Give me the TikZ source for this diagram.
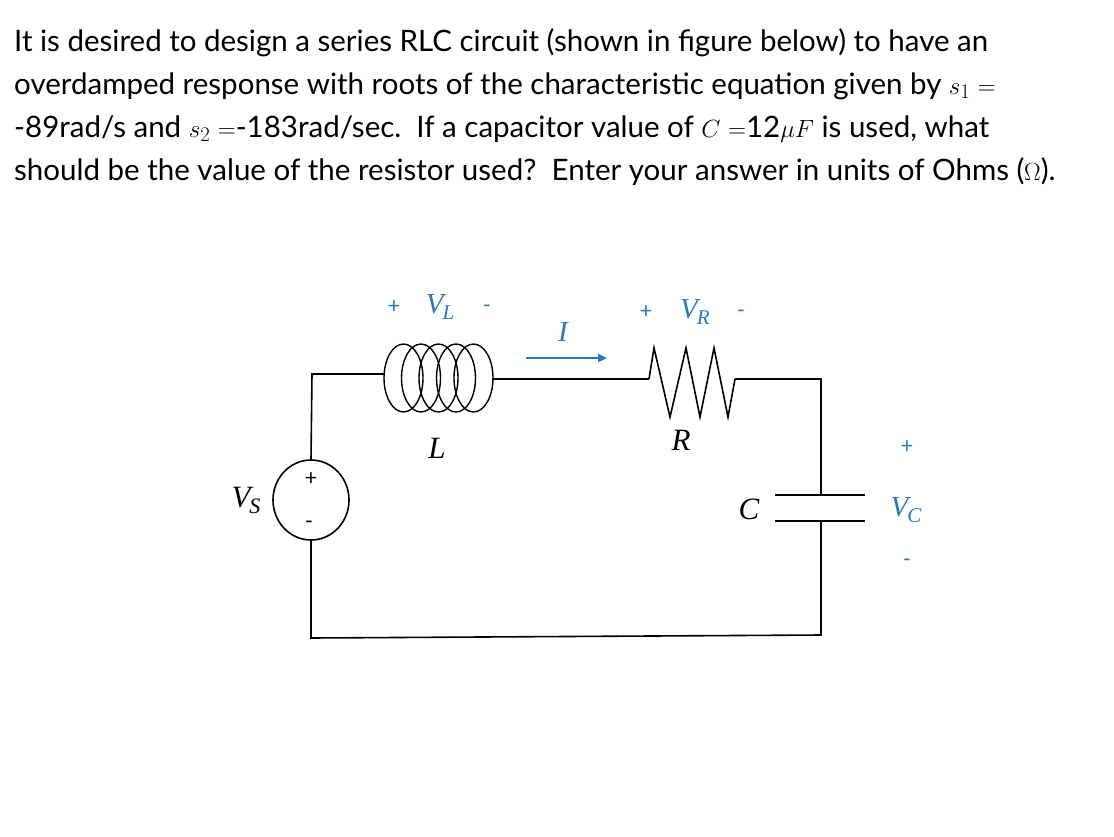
\documentclass[tikz,border=0pt]{standalone}
\usepackage{fontspec}
\setmainfont{Lato}
\newfontfamily\serifl{Liberation Serif}
\usetikzlibrary{arrows.meta,shapes.geometric}
\definecolor{cblue}{RGB}{40,120,190}
\begin{document}
\begin{tikzpicture}[x=1pt,y=-1pt,
  txt/.style={anchor=base west,inner sep=0pt,font=\fontsize{29.5}{32}\selectfont},
  wire/.style={line width=1.6pt},
  lbl/.style={font=\fontsize{31}{33}\serifl\itshape},
  blbl/.style={text=cblue,font=\fontsize{29}{31}\serifl\itshape},
  sgn/.style={font=\fontsize{22}{24}\selectfont},
  bsgn/.style={text=cblue,font=\fontsize{22}{24}\selectfont}]
\useasboundingbox (0,0) rectangle (1114,836);
\node[txt] (t1) at (14,51) {It is desired to design a series RLC circuit (shown in figure below) to have an};
\node[txt] (t2) at (14,94) {overdamped response with roots of the characteristic equation given by $s_1$ $=$};
\node[txt] (t3) at (14,137) {-89rad/s and $s_2$ $=$-183rad/sec.\ \ If a capacitor value of $C$ $=$12$\mu F$ is used, what};
\node[txt] (t4) at (14,180) {should be the value of the resistor used?\ \ Enter your answer in units of Ohms ($\Omega$).};
% circuit
\coordinate (tl) at (312,374);
\coordinate (li) at (384,374);
\coordinate (lo) at (492,379);
\coordinate (ri) at (649,379);
\coordinate (ro) at (735,379);
\coordinate (tr) at (821,379);
\coordinate (c1) at (821,495);
\coordinate (c2) at (821,521);
\coordinate (br) at (821,635);
\coordinate (bl) at (311,638);
\node[draw,ellipse,line width=1.6pt,minimum width=76pt,minimum height=80pt,inner sep=0pt] (src) at (311,500) {};
\draw[wire] (src.north) -- (tl) -- (li);
\draw[wire] (src.south) -- (bl) -- (br) -- (c2);
\draw[wire] (c1) -- (tr) -- (ro);
% inductor coils
\foreach \i in {0,1,2,3,4}{
  \draw[line width=1.4pt] (403.5+\i*17.5,378) ellipse (19.5 and 34);
}
\draw[wire] (lo) -- (ri);
% resistor
\draw[wire,line join=miter] (ri) -- (654,348) -- (670,417) -- (686,348) -- (700,417) -- (714,348) -- (728,417) -- (735,379) -- (ro);
% capacitor plates
\draw[wire] (775,495) -- (865,495);
\draw[wire] (775,521) -- (865,521);
% arrow
\draw[cblue,line width=2.2pt,-{Triangle[length=9pt,width=8pt]}] (526,358) -- (607,358);
% labels
\node[lbl] (lL) at (437,448) {L};
\node[lbl] (lR) at (681,440) {R};
\node[lbl] (lC) at (749,509) {C};
\node[lbl] (lVs) at (246,500) {V\kern-1pt\raisebox{-6pt}{\fontsize{22}{24}\selectfont S}};
\node[sgn] (sp) at (311,479) {+};
\node[sgn] (sm) at (309,525) {-};
\node[blbl] (lI) at (563,332) {I};
\node[bsgn] (lp1) at (394,307) {+};
\node[blbl] (lVL) at (440,307) {V\kern-1pt\raisebox{-6pt}{\fontsize{21}{23}\selectfont L}};
\node[bsgn] (lm1) at (487,309) {-};
\node[bsgn] (lp2) at (646,312) {+};
\node[blbl] (lVR) at (695,312) {V\kern-1pt\raisebox{-6pt}{\fontsize{21}{23}\selectfont R}};
\node[bsgn] (lm2) at (741,314) {-};
\node[bsgn] (cp) at (907,447) {+};
\node[blbl] (lVC) at (906,510) {V\kern-1pt\raisebox{-6pt}{\fontsize{21}{23}\selectfont C}};
\node[bsgn] (cm) at (907,563) {-};
\end{tikzpicture}
\end{document}
